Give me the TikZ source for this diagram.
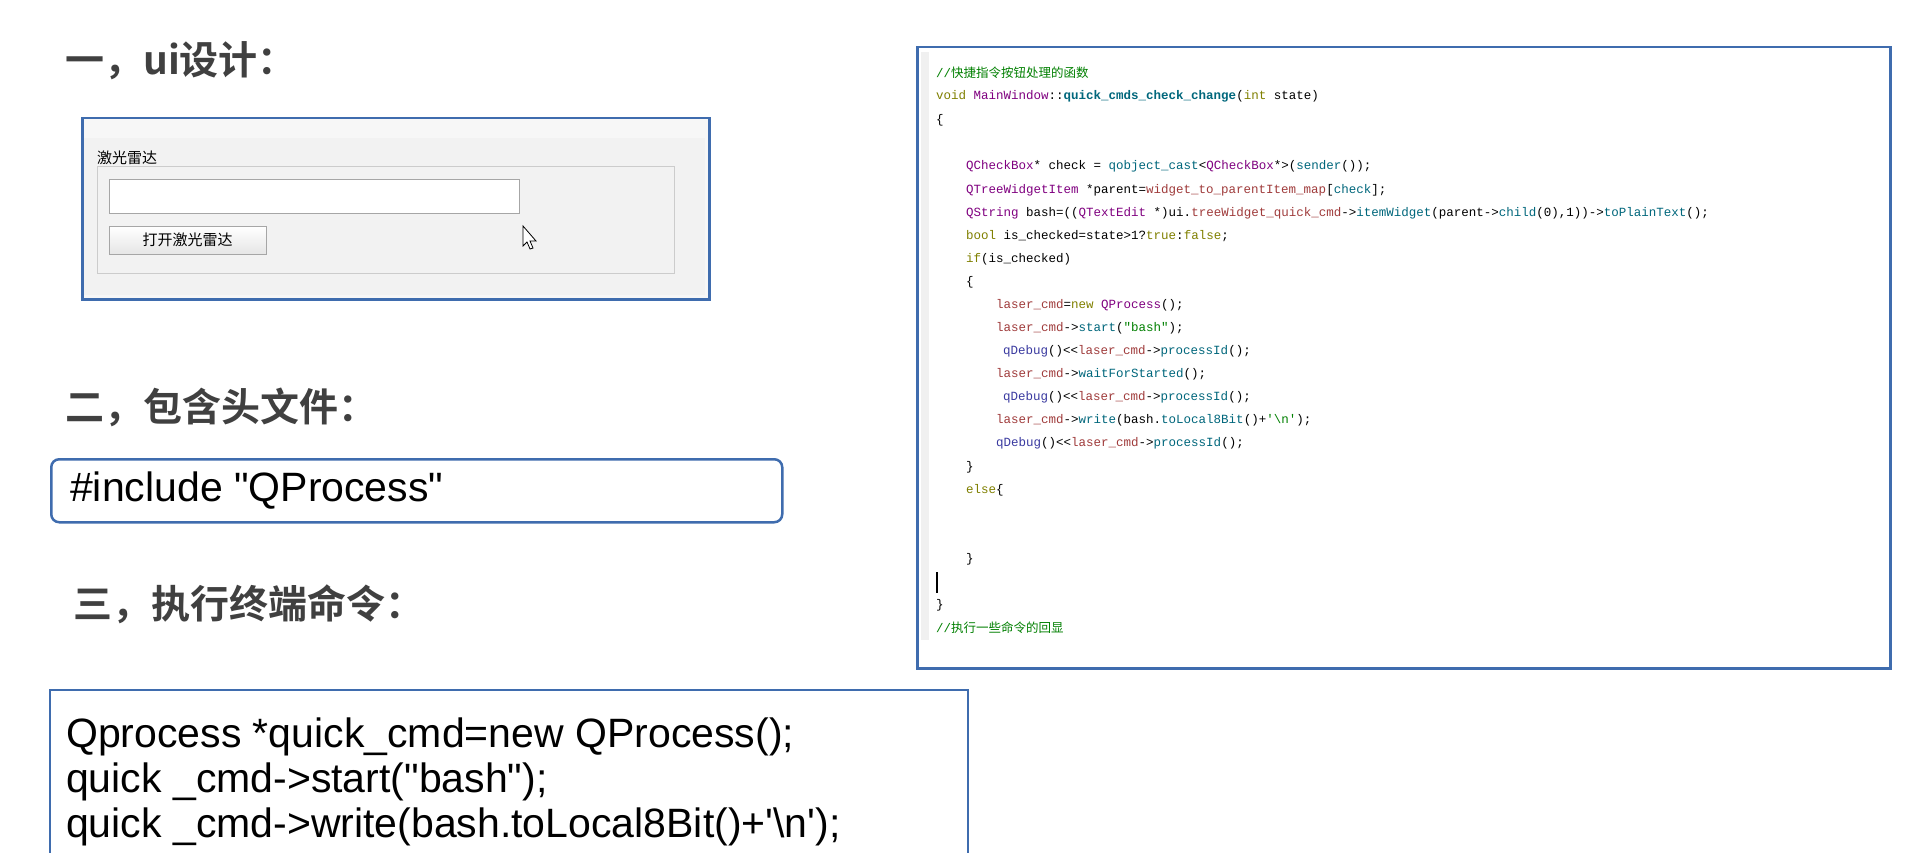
\documentclass[tikz,border=0pt]{standalone}
\usepackage{fontspec}
\setmainfont{Liberation Sans}
\setmonofont{Liberation Mono}
\newfontfamily\cjk{Noto Sans CJK SC}
\newfontfamily\cjkb{Noto Sans CJK SC Bold}
\definecolor{frameblue}{HTML}{3F6CAE}
\definecolor{titlegray}{HTML}{404040}
\definecolor{cm}{HTML}{008000}
\definecolor{kw}{HTML}{808000}
\definecolor{cls}{HTML}{800080}
\definecolor{fn}{HTML}{00677C}
\definecolor{vr}{HTML}{A03C3C}
\definecolor{dbg}{HTML}{3A3AA0}
\newcommand{\K}[1]{\textcolor{kw}{#1}}
\newcommand{\C}[1]{\textcolor{cls}{#1}}
\newcommand{\F}[1]{\textcolor{fn}{#1}}
\newcommand{\V}[1]{\textcolor{vr}{#1}}
\newcommand{\D}[1]{\textcolor{dbg}{#1}}
\newcommand{\G}[1]{\textcolor{cm}{#1}}
\begin{document}
\begin{tikzpicture}[x=1pt,y=-1pt,
  title/.style={anchor=west,inner sep=0pt,font=\cjkb\fontsize{39}{44}\selectfont,text=titlegray},
  frame/.style={draw=frameblue,line width=2.5pt},
  big/.style={anchor=west,inner sep=0pt,font=\fontsize{41}{46}\selectfont},
  code/.style={anchor=west,inner sep=0pt,font=\ttfamily\fontsize{12.5}{14}\selectfont},
  ui/.style={anchor=west,inner sep=0pt,font=\cjk\fontsize{15}{18}\selectfont}]
\useasboundingbox (0,0) rectangle (1905,853);
% titles
\node[title] (t1) at (65,61) {一，ui设计：};
\node[title] (t2) at (65,407) {二，包含头文件：};
\node[title] (t3) at (73,604) {三，执行终端命令：};
% UI box
\node[frame,fill=gray!6,minimum width=627pt,minimum height=181pt,anchor=north west,inner sep=0pt] (uibox) at (81,117) {};
\fill[gray!10] (84,138) rectangle (705,295);
\draw[gray!40] (97,166) rectangle (674,273);
\node[ui] (lbl) at (97,158) {激光雷达};
\node[draw=gray!70,fill=white,minimum width=410pt,minimum height=34pt,anchor=north west,inner sep=0pt] (edit) at (109,179) {};
\node[draw=gray!70,top color=white,bottom color=gray!20,minimum width=157pt,minimum height=28pt,anchor=north west,inner sep=0pt,font=\cjk\fontsize{15}{18}\selectfont] (btn) at (109,226) {打开激光雷达};
\draw[fill=white,line width=0.8pt] (523,226) -- (523,246) -- (527,242) -- (530,249) -- (533,248) -- (530,241) -- (536,241) -- cycle;
% include box
\node[draw=frameblue,line width=2.5pt,rounded corners=8pt,minimum width=731pt,minimum height=63pt,anchor=north west,inner sep=0pt] (incbox) at (50,458) {};
\node[big] (inc) at (70,491) {\#include \textquotedbl QProcess\textquotedbl};
% bottom box
\draw[frame] (50,900) -- (50,690) -- (968,690) -- (968,900);
\node[big] (b1) at (66,737) {Qprocess *quick\_cmd=new QProcess();};
\node[big] (b2) at (66,782) {quick \_cmd->start(\textquotedbl bash\textquotedbl);};
\node[big] (b3) at (66,827) {quick \_cmd->write(bash.toLocal8Bit()+\textquotesingle\textbackslash n\textquotesingle);};
% code panel
\node[frame,fill=white,minimum width=973pt,minimum height=621pt,anchor=north west,inner sep=0pt] (panel) at (916,46) {};
\fill[gray!12] (921,52) rectangle (929,640);
\node[code] (c1) at (936,73) {\G{//{\cjk 快捷指令按钮处理的函数}}};
\node[code] (c2) at (936,96) {\K{void} \C{MainWindow}::\textbf{\F{quick\_cmds\_check\_change}}(\K{int} state)};
\node[code] (c3) at (936,120) {\{};
\node[code] (c5) at (966,166) {\C{QCheckBox}* check = \F{qobject\_cast}<\C{QCheckBox}*>(\F{sender}());};
\node[code] (c6) at (966,190) {\C{QTreeWidgetItem} *parent=\V{widget\_to\_parentItem\_map}[\F{check}];};
\node[code] (c7) at (966,213) {\C{QString} bash=((\C{QTextEdit} *)ui.\V{treeWidget\_quick\_cmd}->\F{itemWidget}(parent->\F{child}(0),1))->\F{toPlainText}();};
\node[code] (c8) at (966,236) {\K{bool} is\_checked=state>1?\K{true}:\K{false};};
\node[code] (c9) at (966,259) {\K{if}(is\_checked)};
\node[code] (c10) at (966,282) {\{};
\node[code] (c11) at (996,305) {\V{laser\_cmd}=\K{new} \C{QProcess}();};
\node[code] (c12) at (996,328) {\V{laser\_cmd}->\F{start}(\G{"bash"});};
\node[code] (c13) at (1003,351) {\D{qDebug}()<<\V{laser\_cmd}->\F{processId}();};
\node[code] (c14) at (996,374) {\V{laser\_cmd}->\F{waitForStarted}();};
\node[code] (c15) at (1003,397) {\D{qDebug}()<<\V{laser\_cmd}->\F{processId}();};
\node[code] (c16) at (996,420) {\V{laser\_cmd}->\F{write}(bash.\F{toLocal8Bit}()+\G{'\textbackslash n'});};
\node[code] (c17) at (996,443) {\D{qDebug}()<<\V{laser\_cmd}->\F{processId}();};
\node[code] (c18) at (966,467) {\}};
\node[code] (c19) at (966,490) {\K{else}\{};
\node[code] (c22) at (966,559) {\}};
\draw[line width=1.3pt] (937,572) -- (937,593);
\node[code] (c24) at (936,605) {\}};
\node[code] (c25) at (936,628) {\G{//{\cjk 执行一些命令的回显}}};
\end{tikzpicture}
\end{document}
